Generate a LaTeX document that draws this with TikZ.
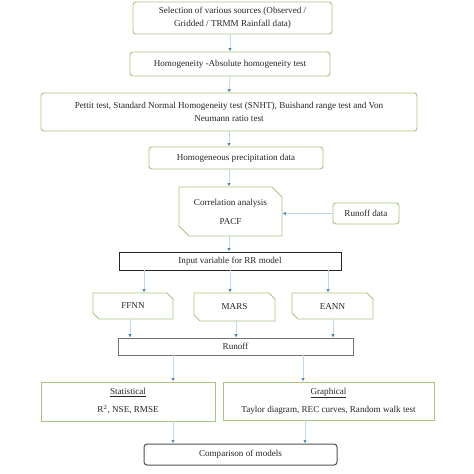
\documentclass[tikz,border=0pt]{standalone}
\usepackage{fontspec}
\setmainfont{Liberation Serif}
\usetikzlibrary{arrows.meta,shapes.misc}
\definecolor{gborder}{RGB}{170,196,128}
\definecolor{lblue}{RGB}{190,215,237}
\definecolor{tblue}{RGB}{80,135,185}
\definecolor{dgrey}{RGB}{80,80,80}
\tikzset{
  base/.style={align=center,inner sep=1pt,font=\fontsize{9.1}{12.5}\selectfont,text=black!85},
  gbox/.style={base,draw=gborder,line width=0.9pt,rounded corners=3pt},
  gsq/.style={base,draw=gborder,line width=0.9pt},
  snip/.style={base,draw=gborder,line width=0.9pt,chamfered rectangle,chamfered rectangle corners={north east,south west},chamfered rectangle xsep=3pt,chamfered rectangle ysep=3pt},
  kbox/.style={base,draw=black!85,line width=0.9pt},
  rbox/.style={base,draw=black!55,line width=0.8pt},
  cbox/.style={base,draw=dgrey,line width=1pt,rounded corners=3pt},
  arr/.style={draw=lblue,line width=0.8pt,-{Latex[length=3.5pt,width=3.5pt,color=tblue]}},
}
\begin{document}
\begin{tikzpicture}[x=1pt,y=-1pt]
\useasboundingbox[fill=white] (0,0) rectangle (474,474);
\node[gbox,minimum width=199pt,minimum height=32pt] (b1) at (232.5,18) {Selection of various sources (Observed /\\Gridded / TRMM Rainfall data)};
\node[gbox,minimum width=200pt,minimum height=24pt] (b2) at (230,64) {Homogeneity -Absolute homogeneity test};
\node[gbox,minimum width=376pt,minimum height=38pt] (b3) at (229,112) {Pettit test, Standard Normal Homogeneity test (SNHT), Buishand range test and Von\\Neumann ratio test};
\node[gbox,minimum width=174pt,minimum height=22pt] (b4) at (236,158) {Homogeneous precipitation data};
\node[snip,minimum width=103pt,minimum height=49pt,chamfered rectangle xsep=5pt,chamfered rectangle ysep=5pt,font=\fontsize{9.1}{19}\selectfont] (b5) at (230.5,211.5) {Correlation analysis\\PACF};
\node[gbox,minimum width=66pt,minimum height=21pt] (rd) at (366,213.5) {Runoff data};
\node[kbox,minimum width=222pt,minimum height=18pt] (in) at (230,261) {Input variable for RR model};
\node[snip,minimum width=80pt,minimum height=26pt] (ffnn) at (133,306) {FFNN};
\node[snip,minimum width=81pt,minimum height=28pt] (mars) at (234.5,307) {MARS};
\node[snip,minimum width=81pt,minimum height=26pt] (eann) at (332.5,306) {EANN};
\node[rbox,minimum width=235pt,minimum height=17pt] (ro) at (235.5,346.5) {Runoff};
\node[gsq,minimum width=174pt,minimum height=39pt,font=\fontsize{9.1}{18}\selectfont] (st) at (128,401.5) {\underline{Statistical}\\R$^2$, NSE, RMSE};
\node[gsq,minimum width=211pt,minimum height=38pt,font=\fontsize{9.1}{18}\selectfont] (gr) at (328.5,401) {\underline{Graphical}\\Taylor diagram, REC curves, Random walk test};
\node[cbox,minimum width=193pt,minimum height=21pt] (cm) at (240.5,454.5) {Comparison of models};
\draw[arr] ([xshift=-2.5pt]b1.south) -- ([xshift=0pt]b2.north);
\draw[arr] ([xshift=0pt]b2.south) -- ([xshift=0pt]b3.north);
\draw[arr] (b3.south) -- ([xshift=-7pt]b4.north);
\draw[arr] ([xshift=-7pt]b4.south) -- ([xshift=-1.5pt]b5.north);
\draw[arr] (rd.west) -- (rd.west -| b5.east);
\draw[arr] ([xshift=-1.5pt]b5.south) -- ([xshift=-1pt]in.north);
\draw[arr] ([xshift=-86pt]in.south) -- ([xshift=11pt]ffnn.north);
\draw[arr] (in.south) -- ([xshift=-4.5pt]mars.north);
\draw[arr] ([xshift=98pt]in.south) -- ([xshift=-4.5pt]eann.north);
\draw[arr] ([xshift=-3pt]ffnn.south) -- ([xshift=-105.5pt]ro.north);
\draw[arr] ([xshift=1.5pt]mars.south) -- ([xshift=0.5pt]ro.north);
\draw[arr] ([xshift=0.5pt]eann.south) -- ([xshift=97.5pt]ro.north);
\draw[arr] ([xshift=-62.5pt]ro.south) -- ([xshift=45pt]st.north);
\draw[arr] ([xshift=67.5pt]ro.south) -- ([xshift=-25.5pt]gr.north);
\draw[arr] ([xshift=45pt]st.south) -- ([xshift=-67.5pt]cm.north);
\draw[arr] ([xshift=-23.5pt]gr.south) -- ([xshift=64.5pt]cm.north);
\end{tikzpicture}
\end{document}
